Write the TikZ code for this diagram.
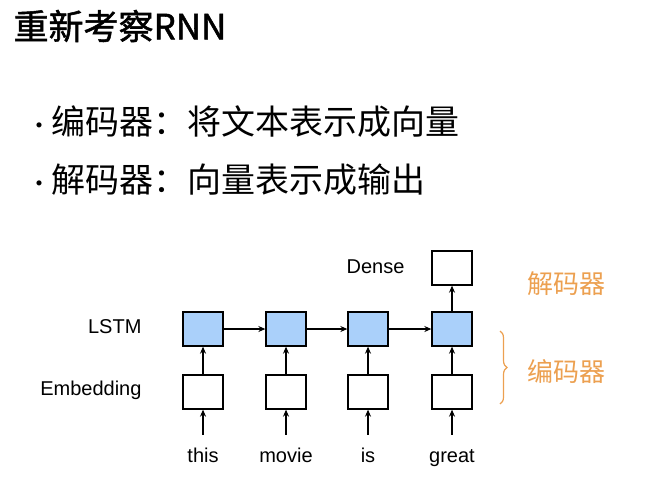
\documentclass[tikz,border=0pt]{standalone}
\usepackage{fontspec}
\setmainfont{Liberation Sans}
\newfontfamily\cjk{Noto Sans CJK SC}
\newfontfamily\cjkbold[FakeBold=1.5]{Noto Sans CJK SC}
\usetikzlibrary{positioning, calc}
\usetikzlibrary{decorations.pathreplacing}
\usetikzlibrary{arrows.meta}
\definecolor{lstmblue}{RGB}{170,208,250}
\definecolor{codeorange}{RGB}{236,160,80}
\tikzset{
	cell/.style={draw, line width=1.3pt, minimum width=40pt, minimum height=34pt, inner sep=0pt},
	lstm/.style={cell, fill=lstmblue},
	word/.style={font=\fontsize{20}{22}\selectfont, inner sep=2pt, anchor=base},
	side/.style={font=\fontsize{20}{22}\selectfont, anchor=east},
	flow/.style={-{Stealth[length=7pt,width=6pt]}, line width=1.3pt},
	part/.style={font=\cjk\fontsize{26}{28}\selectfont, text=codeorange, anchor=west}
}
\begin{document}
\begin{tikzpicture}[x=1pt, y=-1pt]
	\useasboundingbox (0,0) rectangle (663,490);
	\node [anchor=west, font=\cjkbold\fontsize{35}{38}\selectfont] (title) at (10,26) {重新考察RNN};
	\node [anchor=west, font=\cjk\fontsize{34}{36}\selectfont] (b1) at (24,122) {{\fontsize{24}{26}\selectfont\textbullet}编码器：将文本表示成向量};
	\node [anchor=west, font=\cjk\fontsize{34}{36}\selectfont] (b2) at (24,180) {{\fontsize{24}{26}\selectfont\textbullet}解码器：向量表示成输出};
	% encoder cells
	\node [cell] (e1) at (203,392) {};
	\node [cell] (e2) at (286,392) {};
	\node [cell] (e3) at (368,392) {};
	\node [cell] (e4) at (452,392) {};
	\node [lstm] (l1) at (203,329) {};
	\node [lstm] (l2) at (286,329) {};
	\node [lstm] (l3) at (368,329) {};
	\node [lstm] (l4) at (452,329) {};
	\node [cell] (dense) at (452,268) {};
	% words
	\node [word] (w1) at (203,462) {this};
	\node [word] (w2) at (286,462) {movie};
	\node [word] (w3) at (368,462) {is};
	\node [word] (w4) at (452,462) {great};
	\node [side] (lbl-dense) at (408,267) {Dense};
	\node [side] (lbl-lstm) at (145,327) {LSTM};
	\node [side] (lbl-emb) at (145,390) {Embedding};
	\foreach \i in {1,...,4} {
		\draw [flow] (e\i.south) ++(0,25) -- (e\i.south);
		\draw [flow] (e\i.north) -- (l\i.south);
	}
	\draw [flow] (l1.east) -- (l2.west);
	\draw [flow] (l2.east) -- (l3.west);
	\draw [flow] (l3.east) -- (l4.west);
	\draw [flow] (l4.north) -- (dense.south);
	% encoder / decoder
	\coordinate (bt) at (500,331);
	\coordinate (bb) at (500,404);
	\draw [codeorange, line width=1.2pt, decoration={brace,amplitude=7pt}, decorate] (bt) -- (bb);
	\node [part] (dec) at (524,284) {解码器};
	\node [part] (enc) at (524,372) {编码器};
\end{tikzpicture}
\end{document}
